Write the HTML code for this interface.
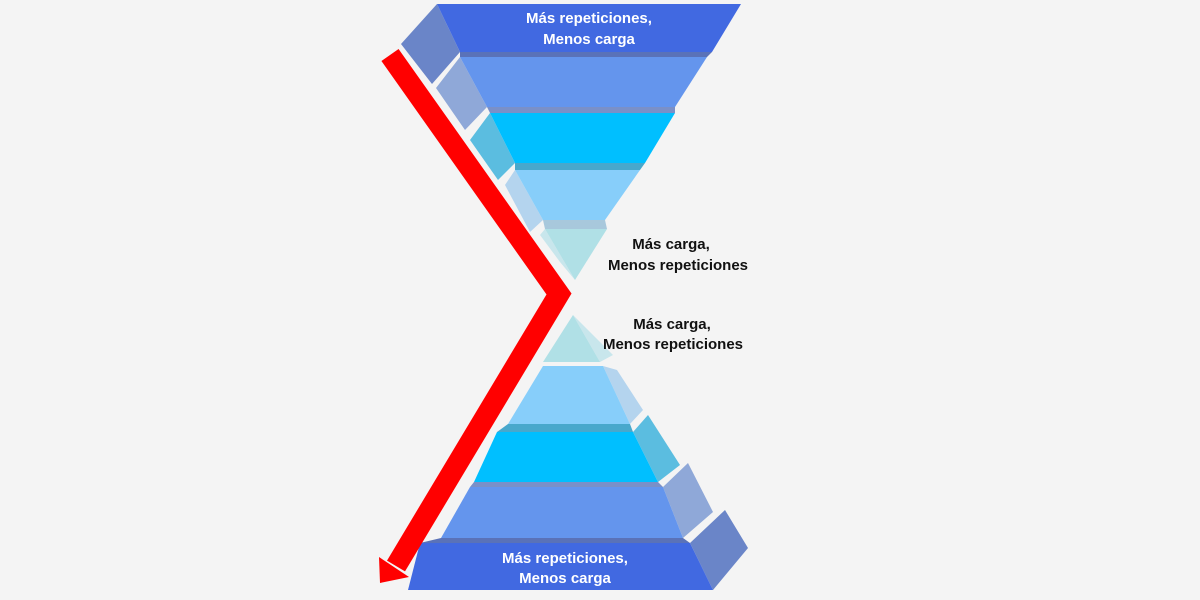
<!DOCTYPE html>
<html><head><meta charset="utf-8"><style>
body{margin:0;background:#f4f4f4;}
svg{display:block}
text{font-family:"Liberation Sans",sans-serif;font-weight:bold;font-size:15px;text-anchor:middle}
</style></head><body>
<svg width="1200" height="600" viewBox="0 0 1200 600">
<rect width="1200" height="600" fill="#f4f4f4"/>
<polygon points="437,4 460,52 432,84 401,44" fill="#6a85c8"/>
<polygon points="437,4 741,4 712,52 460,52" fill="#4169e1"/>
<polygon points="460,52 712,52 707,57 460,57" fill="#5a72b8"/>
<polygon points="460,57 487,107 465,130 436,88" fill="#8fa8d8"/>
<polygon points="460,57 707,57 675,107 487,107" fill="#6495ed"/>
<polygon points="487,107 675,107 675,113 490,113" fill="#7a90c8"/>
<polygon points="490,113 515,163 498,180 470,140" fill="#5bbde0"/>
<polygon points="490,113 675,113 645,163 515,163" fill="#00bfff"/>
<polygon points="515,163 645,163 640,170 515,170" fill="#48a8cc"/>
<polygon points="515,170 543,220 530,232 505,185" fill="#b4d4ee"/>
<polygon points="515,170 640,170 605,220 543,220" fill="#87cefa"/>
<polygon points="543,220 605,220 607,229 545,229" fill="#a8c8dc"/>
<polygon points="545,229 575,280 560,262 540,235" fill="#c8e6ec"/>
<polygon points="545,229 607,229 575,280" fill="#b0e0e6"/>
<polygon points="573,315 600,362 613,355" fill="#c8e6ec"/>
<polygon points="573,315 600,362 543,362" fill="#b0e0e6"/>
<polygon points="603,366 630,424 643,410 617,370" fill="#b4d4ee"/>
<polygon points="543,366 603,366 630,424 508,424" fill="#87cefa"/>
<polygon points="508,424 630,424 633,432 497,432" fill="#48a8cc"/>
<polygon points="633,432 658,482 680,465 648,415" fill="#5bbde0"/>
<polygon points="497,432 633,432 658,482 474,482" fill="#00bfff"/>
<polygon points="474,482 658,482 663,487 470,487" fill="#7a90c8"/>
<polygon points="663,487 683,538 713,512 688,463" fill="#8fa8d8"/>
<polygon points="470,487 663,487 683,538 441,538" fill="#6495ed"/>
<polygon points="441,538 683,538 690,543 420,543" fill="#5a72b8"/>
<polygon points="690,543 713,590 748,548 725,510" fill="#6a85c8"/>
<polygon points="420,543 690,543 713,590 408,590" fill="#4169e1"/>
<polyline points="390,55 559,294 396,566" fill="none" stroke="#ff0000" stroke-width="21" stroke-linejoin="miter"/>
<polygon points="380,583 379,557 409,577" fill="#ff0000"/>
<text x="589" y="23" fill="#fff">Más repeticiones,</text>
<text x="589" y="44" fill="#fff">Menos carga</text>
<text x="671" y="249" fill="#111">Más carga,</text>
<text x="678" y="270" fill="#111">Menos repeticiones</text>
<text x="672" y="329" fill="#111">Más carga,</text>
<text x="673" y="349" fill="#111">Menos repeticiones</text>
<text x="565" y="563" fill="#fff">Más repeticiones,</text>
<text x="565" y="583" fill="#fff">Menos carga</text>
</svg>
</body></html>
